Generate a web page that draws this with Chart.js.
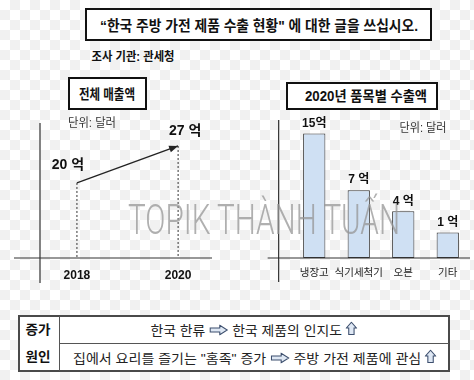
<!DOCTYPE html>
<html><head><meta charset="utf-8">
<script src="https://cdn.jsdelivr.net/npm/chart.js@4.4.0/dist/chart.umd.min.js"></script>
<style>
html,body{margin:0;padding:0;}
body{width:474px;height:380px;position:relative;overflow:hidden;background-color:#fff;
background-image:conic-gradient(#f1f1f1 25%, transparent 0 50%, #f1f1f1 0 75%, transparent 0);background-size:20px 20px;
font-family:"Liberation Sans","Noto Sans CJK KR",sans-serif;color:#111;}
.box{position:absolute;box-sizing:border-box;border:2px solid #111;background:#fff;}
.t{position:absolute;white-space:nowrap;line-height:1;z-index:5;}
.cw{position:absolute;z-index:2;}
.line{position:absolute;background:#555;z-index:3;}
svg{vertical-align:-1px;}
</style></head>
<body>
<script>
// ---- data ----
const years = ['2018', '2020'];
const yearValues = [2018, 2020];
const totalSales = [20, 27];            // 억 달러
const totalLabels = ['20 억', '27 억'];
const items = ['냉장고', '식기세척기', '오븐', '기타'];
const itemExports = [15, 7, 4, 1];      // 억 달러 (2020)
const itemLabels = ['15억', '7 억', '4 억', '1 억'];
</script>

<div class="box" style="left:85px;top:8px;width:347px;height:33px;"></div>
<div class="t" style="left:259px;top:25px;font-weight:bold;font-size:15px;" data-w="318">“한국 주방 가전 제품 수출 현황" 에 대한 글을 쓰십시오.</div>
<div class="t" style="left:133px;top:57px;font-weight:bold;font-size:12px;" data-w="83">조사 기관: 관세청</div>

<div class="box" style="left:68px;top:77px;width:79px;height:33px;"></div>
<div class="t" style="left:107px;top:94px;font-weight:bold;font-size:14px;" data-w="56">전체 매출액</div>
<div class="t" style="left:92px;top:123px;font-size:12px;color:#333;" data-w="48">단위: 달러</div>

<div class="box" style="left:286px;top:82px;width:152px;height:28px;"></div>
<div class="t" style="left:366px;top:96px;font-weight:bold;font-size:14px;" data-w="122">2020년 품목별 수출액</div>
<div class="t" style="left:423px;top:128px;font-size:12px;color:#333;" data-w="47">단위: 달러</div>

<div class="cw" style="left:0px;top:110px;"><canvas id="cL" width="230" height="180" style="width:230px;height:180px;"></canvas></div>
<div class="cw" style="left:240px;top:110px;"><canvas id="cR" width="234" height="180" style="width:234px;height:180px;"></canvas></div>

<div class="t" style="left:264px;top:220px;font-family:Roboto,'Liberation Sans',sans-serif;font-weight:300;font-size:42px;color:rgba(150,150,150,0.75);z-index:6;" data-w="272">TOPIK THÀNH TUẤN</div>

<div style="position:absolute;left:18px;top:315px;width:432px;height:57px;box-sizing:border-box;border:2px solid #4a4a4a;background:#fff;z-index:2;"></div>
<div class="line" style="left:59px;top:316px;width:1px;height:55px;"></div>
<div class="line" style="left:60px;top:343px;width:389px;height:1px;"></div>
<div class="t" style="left:38px;top:329px;font-weight:bold;font-size:13px;" data-w="25">증가</div>
<div class="t" style="left:38px;top:356px;font-weight:bold;font-size:13px;" data-w="25">원인</div>
<div class="t" style="left:254px;top:329px;font-size:13px;color:#222;" data-w="207">한국 한류 <svg width="18" height="11" viewBox="0 0 18 11"><path d="M1 3.5H10V0.8L17 5.5L10 10.2V7.5H1Z" fill="#dfe8f4" stroke="#3d4f6e" stroke-width="1"/></svg> 한국 제품의 인지도 <svg width="11" height="14" viewBox="0 0 11 14"><path d="M3 13V6.5H0.8L5.5 0.8L10.2 6.5H8V13Z" fill="#dfe8f4" stroke="#3d4f6e" stroke-width="1"/></svg></div>
<div class="t" style="left:255px;top:357px;font-size:13px;color:#222;" data-w="364">집에서 요리를 즐기는 "홈족" 증가 <svg width="18" height="11" viewBox="0 0 18 11"><path d="M1 3.5H10V0.8L17 5.5L10 10.2V7.5H1Z" fill="#dfe8f4" stroke="#3d4f6e" stroke-width="1"/></svg> 주방 가전 제품에 관심 <svg width="11" height="14" viewBox="0 0 11 14"><path d="M3 13V6.5H0.8L5.5 0.8L10.2 6.5H8V13Z" fill="#dfe8f4" stroke="#3d4f6e" stroke-width="1"/></svg></div>

<script>
document.querySelectorAll('.t').forEach(el => {
  const w = el.getBoundingClientRect().width;
  const target = +el.dataset.w;
  const k = target ? target / w : 1;
  el.style.transform = 'translate(-50%,-50%) scaleX(' + k + ')';
});

const FONT = '"Liberation Sans","Noto Sans CJK KR",sans-serif';

const leftDeco = {
  id: 'leftDeco',
  afterDatasetsDraw(chart) {
    const {ctx, chartArea: a} = chart;
    const pts = chart.getDatasetMeta(0).data;
    ctx.save();
    ctx.strokeStyle = '#333'; ctx.lineWidth = 1.2;
    ctx.beginPath();
    ctx.moveTo(a.left, a.top); ctx.lineTo(a.left, a.bottom + 25);
    ctx.moveTo(a.left - 26, a.bottom); ctx.lineTo(a.right, a.bottom);
    ctx.stroke();
    ctx.setLineDash([2, 2]); ctx.lineWidth = 1;
    pts.forEach(p => { ctx.beginPath(); ctx.moveTo(p.x, p.y); ctx.lineTo(p.x, a.bottom); ctx.stroke(); });
    ctx.setLineDash([]);
    const p0 = pts[0], p1 = pts[pts.length - 1];
    const ang = Math.atan2(p1.y - p0.y, p1.x - p0.x);
    const L = 9, W = 3.5;
    ctx.fillStyle = '#222';
    ctx.beginPath();
    ctx.moveTo(p1.x, p1.y);
    ctx.lineTo(p1.x - L * Math.cos(ang) + W * Math.sin(ang), p1.y - L * Math.sin(ang) - W * Math.cos(ang));
    ctx.lineTo(p1.x - L * Math.cos(ang) - W * Math.sin(ang), p1.y - L * Math.sin(ang) + W * Math.cos(ang));
    ctx.closePath(); ctx.fill();
    ctx.fillStyle = '#111';
    ctx.font = 'bold 14px ' + FONT;
    ctx.textAlign = 'center'; ctx.textBaseline = 'middle';
    const offs = [[-9, -18], [7, -15]];
    pts.forEach((p, i) => ctx.fillText(totalLabels[i], p.x + offs[i][0], p.y + offs[i][1]));
    ctx.restore();
  }
};

new Chart(document.getElementById('cL'), {
  type: 'line',
  data: { datasets: [{
    data: yearValues.map((x, i) => ({ x: x, y: totalSales[i] })),
    borderColor: '#222', borderWidth: 1.3, pointRadius: 0, tension: 0, fill: false
  }]},
  options: {
    responsive: false, animation: false, events: [],
    layout: { padding: { left: 40, right: 18, top: 13, bottom: 0 } },
    plugins: { legend: { display: false }, tooltip: { enabled: false } },
    scales: {
      x: {
        type: 'linear', min: 2017.27, max: 2020.67,
        grid: { display: false, drawTicks: false }, border: { display: false },
        afterBuildTicks: s => { s.ticks = yearValues.map(v => ({ value: v })); },
        afterFit: s => { s.height = 32; },
        ticks: { padding: 10, color: '#111', maxRotation: 0, autoSkip: false,
          font: { family: FONT, size: 12, weight: 'bold' },
          callback: v => years[yearValues.indexOf(v)] }
      },
      y: { display: false, min: 5.8, max: 31.35 }
    }
  },
  plugins: [leftDeco]
});

const rightDeco = {
  id: 'rightDeco',
  afterDatasetsDraw(chart) {
    const {ctx, chartArea: a, scales: {x}} = chart;
    const bars = chart.getDatasetMeta(0).data;
    const ax = x.getPixelForValue(-0.8);
    ctx.save();
    ctx.strokeStyle = '#333'; ctx.lineWidth = 1.2;
    ctx.beginPath();
    ctx.moveTo(ax, a.top); ctx.lineTo(ax, a.bottom + 24);
    ctx.moveTo(ax - 11, a.bottom); ctx.lineTo(a.right, a.bottom);
    ctx.stroke();
    ctx.fillStyle = '#111';
    ctx.font = 'bold 12px ' + FONT;
    ctx.textAlign = 'center'; ctx.textBaseline = 'middle';
    bars.forEach((b, i) => ctx.fillText(itemLabels[i], b.x, b.y - 10));
    ctx.restore();
  }
};

new Chart(document.getElementById('cR'), {
  type: 'bar',
  data: { labels: items, datasets: [{
    data: itemExports, base: -2.6,
    backgroundColor: '#cfe0f3', borderColor: '#333', borderWidth: 1, borderSkipped: false,
    categoryPercentage: 1, barPercentage: 0.5
  }]},
  options: {
    responsive: false, animation: false, events: [],
    layout: { padding: { left: 52, right: 4, top: 10, bottom: 0 } },
    plugins: { legend: { display: false }, tooltip: { enabled: false } },
    scales: {
      x: {
        grid: { display: false, drawTicks: false }, border: { display: false },
        afterFit: s => { s.height = 32; },
        ticks: { padding: 8, color: '#222', maxRotation: 0, autoSkip: false,
          font: { family: '"Noto Sans CJK KR",sans-serif', size: 10.5 } }
      },
      y: { display: false, min: -2.6, max: 16.92 }
    }
  },
  plugins: [rightDeco]
});
</script>
</body></html>
